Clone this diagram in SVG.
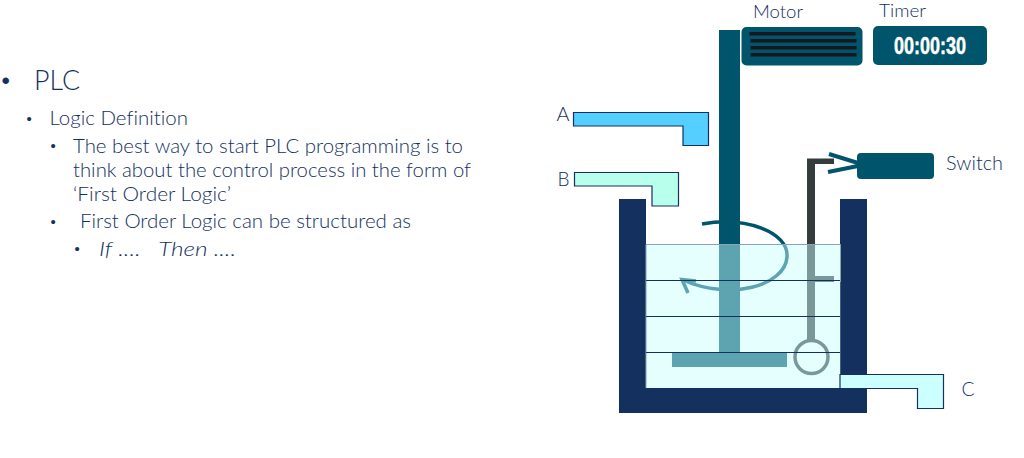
<svg xmlns="http://www.w3.org/2000/svg" width="1024" height="458" viewBox="0 0 1024 458">
<style>
text{font-family:Lato,"Open Sans","Liberation Sans",sans-serif;fill:#14305f;font-weight:300;font-variant-ligatures:none}
.b{font-size:19.500px}
.l{font-size:20px}
.dot{font-family:"Liberation Sans",sans-serif;font-size:15px;font-weight:400}
.pipe{stroke:#14305f;stroke-width:1.2}
.teal{fill:#00546b}
.navy{fill:#14305f}
.bar{fill:#15181f}
.rod{fill:#333d3d}
.lvl{stroke:#14305f;stroke-width:1}
.arc{fill:none;stroke:#00546b;stroke-width:3.5}
</style>
<rect width="1024" height="458" fill="#fff"/>
<g id="bullets">
<text x="1.500" y="88.500" class="dot" style="font-size:24px">•</text>
<text x="34" y="90" textLength="46" lengthAdjust="spacingAndGlyphs" style="font-size:28px">PLC</text>
<text x="26.400" y="123.500" class="dot">•</text>
<text x="50.400" y="150.500" class="dot">•</text>
<text x="49.500" y="125" textLength="138.500" lengthAdjust="spacingAndGlyphs" class="b">Logic Definition</text>
<text x="73" y="152.500" textLength="390" lengthAdjust="spacingAndGlyphs" class="b">The best way to start PLC programming is to</text>
<text x="73" y="177" textLength="398" lengthAdjust="spacingAndGlyphs" class="b">think about the control process in the form of</text>
<text x="73" y="201" textLength="158" lengthAdjust="spacingAndGlyphs" class="b">‘First Order Logic’</text>
<text x="50.400" y="226.500" class="dot">•</text>
<text x="80" y="228" textLength="331" lengthAdjust="spacingAndGlyphs" class="b">First Order Logic can be structured as</text>
<text x="74.400" y="253.500" class="dot">•</text>
<text x="99" y="255.500" xml:space="preserve" textLength="137" lengthAdjust="spacingAndGlyphs" class="b" font-style="italic">If ....   Then ....</text>
</g>
<g id="tank-walls">
<path class="navy" d="M619,199H646V388H840V199H867V413H619Z"/>
</g>
<g id="connectors">
<path class="arc" d="M702,224C745,216 789,232 787,257C785,286 730,301 683,280"/>
<path class="arc" d="M696,281L682,279.500L688,293"/>
<path d="M829,154L858,163M828,172L858,166" fill="none" stroke="#00546b" stroke-width="4"/>
</g>
<g id="shaft">
<rect class="teal" x="719" y="30" width="21" height="323"/>
<rect class="teal" x="672" y="352" width="115" height="15"/>
</g>
<g id="level-switch">
<path class="rod" d="M807,158.500H834V164H815V276H834V282H815V340H807Z"/>
<circle cx="811.500" cy="357" r="16.500" fill="none" stroke="#333d3d" stroke-width="3.500"/>
</g>
<g id="water">
<rect x="646" y="244" width="194.500" height="144" fill="#c8ffff" fill-opacity=".47"/>
<path d="M646,388V244.500H840.500V282" fill="none" stroke="#8aa3b8" stroke-width="1"/>
<path class="lvl" d="M646,280.500H840M646,316.500H840M646,352.500H840"/>
</g>
<g id="pipe-a">
<path class="pipe" fill="#54cfff" d="M573.500,112.500H708.500V145.500H683V126H573.500Z"/>
<text class="l" x="556.500" y="120.500" textLength="13" lengthAdjust="spacingAndGlyphs">A</text>
</g>
<g id="pipe-b">
<path class="pipe" fill="#b8ffec" d="M574.500,172.500H678.500V206H652V186H574.500Z"/>
<text class="l" x="557.500" y="186" textLength="12" lengthAdjust="spacingAndGlyphs">B</text>
</g>
<g id="pipe-c">
<path class="pipe" fill="#ccffff" d="M840,374.500H943.500V408.500H917.500V388.500H840Z"/>
<text class="l" x="961.500" y="396" textLength="13" lengthAdjust="spacingAndGlyphs">C</text>
</g>
<g id="motor">
<rect class="teal" x="741.500" y="27" width="121" height="38.500" rx="5"/>
<rect class="bar" x="749.500" y="32" width="106" height="3.500"/>
<rect class="bar" x="750.500" y="39" width="106" height="3.500"/>
<rect class="bar" x="750.500" y="46" width="106" height="3.500"/>
<rect class="bar" x="750.500" y="53" width="106" height="3.500"/>
<text x="753" y="18" textLength="50" lengthAdjust="spacingAndGlyphs" style="font-size:18px">Motor</text>
</g>
<g id="timer">
<rect class="teal" x="873" y="26" width="114" height="39" rx="5"/>
<text x="894" y="53.500" textLength="72" lengthAdjust="spacingAndGlyphs" style="font-family:'Liberation Sans',sans-serif;font-weight:700;font-size:23px;fill:#fff;stroke:#fff;stroke-width:.5">00:00:30</text>
<text x="879" y="16.800" textLength="47" lengthAdjust="spacingAndGlyphs" style="font-size:17px">Timer</text>
</g>
<g id="switch">
<rect class="teal" x="857" y="153" width="77" height="26" rx="4"/>
<text class="l" x="946" y="170" textLength="57" lengthAdjust="spacingAndGlyphs">Switch</text>
</g>
</svg>
